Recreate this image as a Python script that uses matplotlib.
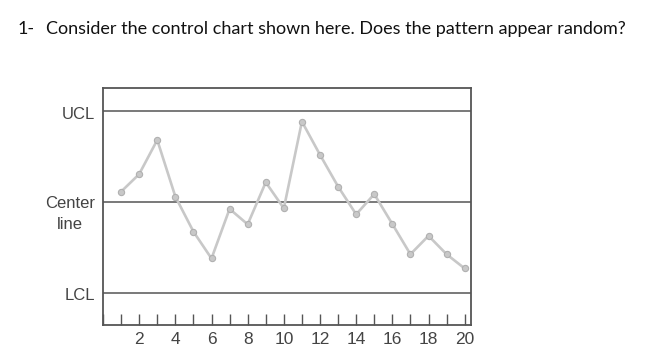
import matplotlib.pyplot as plt
from matplotlib.ticker import MultipleLocator

# sample number and plotted statistic (centre line = 0, limits at +/-3)
samples = list(range(1, 21))
values = [0.34, 0.92, 2.05, 0.18, -0.98, -1.87, -0.23, -0.74, 0.65, -0.21,
          2.66, 1.56, 0.51, -0.41, 0.26, -0.73, -1.73, -1.12, -1.73, -2.20]
limit_names = ["UCL", "Center\nline", "LCL"]
limit_values = [3, 0, -3]
xtick_labels = [2, 4, 6, 8, 10, 12, 14, 16, 18, 20]

fig = plt.figure(figsize=(6.47, 3.57), dpi=100)
fig.text(18 / 647, 1 - 29 / 357, "1-", fontsize=13, family="Lato", va="center", color="#111")
fig.text(46 / 647, 1 - 29 / 357, "Consider the control chart shown here. Does the pattern appear random?",
         fontsize=13, family="Lato", va="center", color="#111")

ax = fig.add_axes([103 / 647, 1 - 325 / 357, 368 / 647, 237 / 357])
ax.plot(samples, values, color="#c8c8c8", lw=1.9, marker="o", ms=4.5,
        mfc="#c8c8c8", mec="#b0b0b0", mew=0.8, zorder=3)

for name, v in zip(limit_names, limit_values):
    ax.axhline(v, color="#555", lw=1.1, zorder=2)
    if "\n" in name:
        ax.annotate(name, (0, v), xycoords=("axes fraction", "data"), xytext=(-6, 4),
                    textcoords="offset points", ha="right", va="top", multialignment="center",
                    fontsize=12, color="#444", family="Liberation Sans", linespacing=1.45)
    else:
        ax.annotate(name, (0, v), xycoords=("axes fraction", "data"), xytext=(-6, -2),
                    textcoords="offset points", ha="right", va="center",
                    fontsize=12, color="#444", family="Liberation Sans")

ax.set_xlim(0, 20.35)
ax.set_ylim(-4.07, 3.77)
ax.set_yticks([])
ax.xaxis.set_major_locator(MultipleLocator(2))
ax.xaxis.set_minor_locator(MultipleLocator(1))
ax.set_xticks(xtick_labels)
ax.set_xticklabels([str(t) for t in xtick_labels], family="Liberation Sans", fontsize=12.5, color="#444")
ax.tick_params(axis="x", which="both", direction="in", length=8, width=1, color="#555", pad=5)
for s in ax.spines.values():
    s.set_color("#555")
    s.set_linewidth(1.3)

fig.savefig("out.png", dpi=100)
